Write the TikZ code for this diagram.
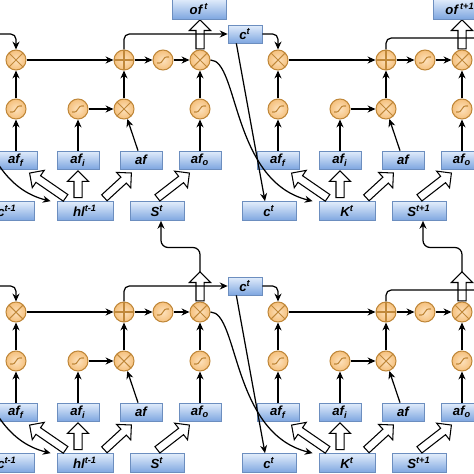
\documentclass[tikz,border=0pt]{standalone}
\usepackage{fontspec}
\setmainfont{Liberation Sans}
\usetikzlibrary{arrows.meta,calc,shapes.arrows}

\definecolor{boxtop}{HTML}{E2EDFB}
\definecolor{boxbot}{HTML}{7EA6E0}
\definecolor{boxline}{HTML}{6C8EBF}
\definecolor{gin}{HTML}{FDE2BE}
\definecolor{gout}{HTML}{F5C07C}
\definecolor{gline}{HTML}{C0883A}

\tikzset{
  box/.style={draw=boxline, top color=boxtop, bottom color=boxbot,
    minimum width=0.84cm, minimum height=0.36cm, inner sep=0pt,
    font=\fontsize{7.5}{8}\selectfont\bfseries\itshape},
  gate/.style={circle, draw=gline, inner color=gin, outer color=gout, line width=0.6pt,
    minimum size=0.4cm, inner sep=0pt},
  mul/.style={gate, path picture={
    \draw[gline, line width=0.6pt]
      (path picture bounding box.north west) -- (path picture bounding box.south east)
      (path picture bounding box.north east) -- (path picture bounding box.south west);}},
  add/.style={gate, path picture={
    \draw[gline, line width=0.6pt]
      (path picture bounding box.north) -- (path picture bounding box.south)
      (path picture bounding box.west) -- (path picture bounding box.east);}},
  sig/.style={gate, path picture={
    \draw[gline, line width=0.6pt]
      ([shift={(-0.12cm,-0.06cm)}]path picture bounding box.center)
      .. controls ([shift={(0.05cm,-0.08cm)}]path picture bounding box.center)
      and ([shift={(-0.05cm,0.08cm)}]path picture bounding box.center)
      .. ([shift={(0.12cm,0.06cm)}]path picture bounding box.center);}},
  conn/.style={draw=black, line width=0.7pt, -{Stealth[length=4.5pt,width=4pt]}},
  hollow/.style={single arrow, draw=black, fill=white, line width=0.6pt,
    inner xsep=0pt, inner ysep=0.07cm, single arrow head extend=0.13cm,
    minimum width=0.4cm}
}

\newcommand\blockarrow[2]{%
  \path let \p1=($(#2)-(#1)$), \n1={atan2(\y1,\x1)}, \n2={veclen(\x1,\y1)} in
    node[hollow, rotate=\n1, minimum height=\n2, anchor=tail] at (#1) {};}

\begin{document}
\begin{tikzpicture}[x=0.02cm,y=-0.02cm]
  \useasboundingbox (0,0) rectangle (474,474);
  \clip (0,0) rectangle (474,474);

  \foreach \rw/\dy in {a/0,b/252}{
    \foreach \cl/\dx/\lc/\lh/\ls in {l/0/{c\textsuperscript{t-1}}/{hl\textsuperscript{t-1}}/{S\textsuperscript{t}},r/262/{c\textsuperscript{t}}/{K\textsuperscript{t}}/{S\textsuperscript{t+1}}}{
      % gates
      \node[mul]  (\rw-\cl-Xf)   at (\dx+16,\dy+60)  {};
      \node[add]  (\rw-\cl-plus) at (\dx+124,\dy+60) {};
      \node[sig]  (\rw-\cl-tanh) at (\dx+163,\dy+60) {};
      \node[mul]  (\rw-\cl-Xo)   at (\dx+200,\dy+60) {};
      \node[sig]  (\rw-\cl-sf)   at (\dx+16,\dy+109) {};
      \node[sig]  (\rw-\cl-si)   at (\dx+78,\dy+109) {};
      \node[mul]  (\rw-\cl-Xi)   at (\dx+124,\dy+109) {};
      \node[sig]  (\rw-\cl-so)   at (\dx+200,\dy+109) {};
      % activation boxes
      \node[box] (\rw-\cl-afF) at (\dx+16,\dy+160)  {af\textsubscript{f}};
      \node[box] (\rw-\cl-afI) at (\dx+78,\dy+160)  {af\textsubscript{i}};
      \node[box] (\rw-\cl-af)  at (\dx+141,\dy+160) {af};
      \node[box] (\rw-\cl-afO) at (\dx+200,\dy+160) {af\textsubscript{o}};
      % inputs
      \node[box, minimum width=1.08cm, minimum height=0.38cm] (\rw-\cl-cin) at (\dx+7,\dy+211)   {\lc};
      \node[box, minimum width=1.12cm, minimum height=0.38cm] (\rw-\cl-hin) at (\dx+85,\dy+211)  {\lh};
      \node[box, minimum width=1.08cm, minimum height=0.38cm] (\rw-\cl-sin) at (\dx+157,\dy+211) {\ls};
      \coordinate (\rw-\cl-o) at ([yshift=0.58cm]\rw-\cl-Xo.north);

      \draw[conn] (\rw-\cl-afF) -- (\rw-\cl-sf);
      \draw[conn] (\rw-\cl-sf) -- (\rw-\cl-Xf);
      \draw[conn] (\rw-\cl-afI) -- (\rw-\cl-si);
      \draw[conn] (\rw-\cl-si) -- (\rw-\cl-Xi);
      \draw[conn] ([xshift=-0.06cm]\rw-\cl-af.north) -- (\rw-\cl-Xi);
      \draw[conn] (\rw-\cl-Xi) -- (\rw-\cl-plus);
      \draw[conn] (\rw-\cl-Xf) -- (\rw-\cl-plus);
      \draw[conn] (\rw-\cl-plus) -- (\rw-\cl-tanh);
      \draw[conn] (\rw-\cl-tanh) -- (\rw-\cl-Xo);
      \draw[conn] (\rw-\cl-afO) -- (\rw-\cl-so);
      \draw[conn] (\rw-\cl-so) -- (\rw-\cl-Xo);

      \blockarrow{[xshift=-0.38cm,yshift=0.06cm]\rw-\cl-hin.north}{[xshift=0.28cm,yshift=-0.08cm]\rw-\cl-afF.south}
      \blockarrow{[xshift=-0.14cm,yshift=0.06cm]\rw-\cl-hin.north}{[yshift=-0.04cm]\rw-\cl-afI.south}
      \blockarrow{[xshift=0.38cm,yshift=0.06cm]\rw-\cl-hin.north}{[xshift=-0.2cm,yshift=-0.08cm]\rw-\cl-af.south}
      \blockarrow{[yshift=0.06cm]\rw-\cl-sin.north}{[xshift=-0.22cm,yshift=-0.08cm]\rw-\cl-afO.south}
      \blockarrow{\rw-\cl-Xo.north}{\rw-\cl-o}
    }

    % cell state between the cells
    \node[box, minimum width=0.68cm] (\rw-cb) at (245,\dy+34) {c\textsuperscript{t}};
    \draw[conn, rounded corners=3pt] (\rw-l-plus) |- (\rw-cb);
    \draw[conn, rounded corners=3pt] (\rw-cb) -| (\rw-r-Xf);
    \draw[conn] ($(\rw-cb.south west)!0.25!(\rw-cb.south east)$) -- ([xshift=-0.08cm]\rw-r-cin.north);
    \draw[conn] (\rw-l-Xo.east) .. controls +(28,0) and +(-81,-20) .. ([xshift=-0.12cm]\rw-r-hin.north west);

    % from the cell before, to the cell after
    \coordinate (\rw-in1) at (-5,\dy+34);
    \coordinate (\rw-in2) at (-52,\dy+60);
    \coordinate (\rw-out) at (490,\dy+38);
    \draw[conn, rounded corners=3pt] (\rw-in1) -| (\rw-l-Xf);
    \draw[conn] (\rw-in2) .. controls +(28,0) and +(-81,-20) .. ([xshift=-0.12cm]\rw-l-hin.north west);
    \draw[line width=0.7pt, rounded corners=3pt] (\rw-r-plus) |- (\rw-out);
  }

  % outputs
  \node[box, minimum width=1.08cm, minimum height=0.4cm] (of-l) at (199,9) {of\,\textsuperscript{t}};
  \node[box, minimum width=1.08cm, minimum height=0.4cm] (of-r) at (460,9) {of\,\textsuperscript{t+1}};
  \foreach \cl in {l,r}
    \draw[conn, rounded corners=4pt] (b-\cl-o) -- ++(0,-25) -| ([xshift=0.08cm]a-\cl-sin.south);
\end{tikzpicture}
\end{document}
